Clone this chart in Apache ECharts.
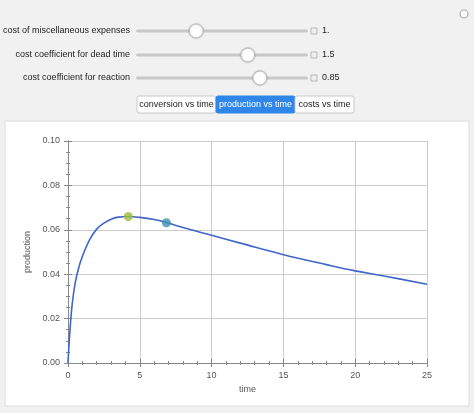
<!DOCTYPE html>
<html><head><meta charset="utf-8">
<script src="https://cdn.jsdelivr.net/npm/echarts@6/dist/echarts.min.js"></script>
<style>html,body{margin:0;padding:0;background:#fff}#c{width:474px;height:413px}</style>
</head><body><div id="c"></div>
<script>
const times = [0,0.05,0.15,0.3,0.5,0.75,1,1.5,2,2.5,3,3.5,4.2,5,6,6.9,8,10,12,15,18,20,22,25];
const production = [0,0.006,0.016,0.027,0.036,0.043,0.048,0.0555,0.0603,0.063,0.0648,0.0657,0.066,0.0656,0.0646,0.0632,0.061,0.0575,0.054,0.0488,0.0443,0.0415,0.0392,0.0355];
const markers = [[4.2,0.066],[6.85,0.0632]];
const markerColors = ['#9cbb3c','#3e8fb0'];
const sliderLabels = ['cost of miscellaneous expenses','cost coefficient for dead time','cost coefficient for reaction'];
const sliderValues = ['1.','1.5','0.85'];
const sliderPos = [0.35,0.65,0.72];
const buttons = ['conversion vs time','production vs time','costs vs time'];
const xTicks = [0,5,10,15,20,25];
const yTicks = [0,0.02,0.04,0.06,0.08,0.10];

const chart = echarts.init(document.getElementById('c'));
const g = [];
g.push({type:'rect',shape:{x:0,y:0,width:474,height:413},style:{fill:'#f1f1f1'},z:-10});
g.push({type:'rect',shape:{x:5,y:121,width:464,height:285},style:{fill:'#fff',stroke:'#dcdcdc'},z:-9});
g.push({type:'circle',shape:{cx:464,cy:14,r:4},style:{fill:'#fff',stroke:'#aaa',lineWidth:1.2}});
const ys=[31,55,78], tx0=136, tx1=308;
sliderLabels.forEach((l,i)=>{
  g.push({type:'text',x:130,y:ys[i],style:{text:l,align:'right',verticalAlign:'middle',font:'9px "Liberation Sans", Arial',fill:'#222'}});
  g.push({type:'rect',shape:{x:tx0,y:ys[i]-1.5,width:tx1-tx0,height:3,r:1.5},style:{fill:'#c8c8c8'}});
  g.push({type:'circle',shape:{cx:tx0+(tx1-tx0)*sliderPos[i],cy:ys[i],r:7},style:{fill:'#fff',stroke:'#bbb',lineWidth:1,shadowBlur:2,shadowColor:'rgba(0,0,0,0.2)'}});
  g.push({type:'rect',shape:{x:311,y:ys[i]-3,width:6,height:6},style:{fill:'#eee',stroke:'#aaa',lineWidth:0.8}});
  g.push({type:'text',x:322,y:ys[i],style:{text:sliderValues[i],verticalAlign:'middle',font:'9px "Liberation Sans", Arial',fill:'#222'}});
});
const bx=[137,216,295,354];
buttons.forEach((b,i)=>{
  const sel=i===1;
  g.push({type:'rect',shape:{x:bx[i],y:96,width:bx[i+1]-bx[i],height:17,r:2},style:{fill:sel?'#2f86e8':'#fff',stroke:sel?'#2f86e8':'#c8c8c8'}});
  g.push({type:'text',x:(bx[i]+bx[i+1])/2,y:104.5,style:{text:b,align:'center',verticalAlign:'middle',font:'9px "Liberation Sans", Arial',fill:sel?'#fff':'#222'}});
});

const axisCommon = {axisLine:{show:true,lineStyle:{color:'#888'}},axisTick:{show:true,inside:true,length:4,lineStyle:{color:'#888'}},minorTick:{show:true,length:2,lineStyle:{color:'#888'}}};
chart.setOption({
  animation:false,
  graphic:g,
  grid:{left:68,right:47,top:141,bottom:50,show:false},
  xAxis:[
    Object.assign({type:'value',min:0,max:25,interval:5,name:'time',nameLocation:'middle',nameGap:22,nameTextStyle:{fontSize:9,color:'#555'},
      axisLabel:{fontSize:9,color:'#555'},splitLine:{show:true,lineStyle:{color:'#ccc'}}},axisCommon,{minorTick:{show:true,splitNumber:5,length:2,lineStyle:{color:'#888'}}}),
    Object.assign({type:'value',position:'top',min:0,max:25,interval:5,axisLabel:{show:false},splitLine:{show:false}},axisCommon,{minorTick:{show:true,splitNumber:5,length:2,lineStyle:{color:'#888'}}})
  ],
  yAxis:[
    Object.assign({type:'value',min:0,max:0.1,interval:0.02,name:'production',nameLocation:'middle',nameGap:33,nameTextStyle:{fontSize:9,color:'#555'},
      axisLabel:{fontSize:9,color:'#555',formatter:v=>v.toFixed(2)},splitLine:{show:true,lineStyle:{color:'#ccc'}}},axisCommon,{minorTick:{show:true,splitNumber:4,length:2,lineStyle:{color:'#888'}}}),
    Object.assign({type:'value',position:'right',min:0,max:0.1,interval:0.02,axisLabel:{show:false},splitLine:{show:false}},axisCommon,{minorTick:{show:true,splitNumber:4,length:2,lineStyle:{color:'#888'}}})
  ],
  series:[
    {type:'line',data:times.map((t,i)=>[t,production[i]]),smooth:0.4,showSymbol:false,lineStyle:{color:'#3f66c8',width:1.6}},
    {type:'scatter',data:markers.map((m,i)=>({value:m,itemStyle:{color:markerColors[i]}})),symbolSize:9,z:5}
  ]
});
</script></body></html>
